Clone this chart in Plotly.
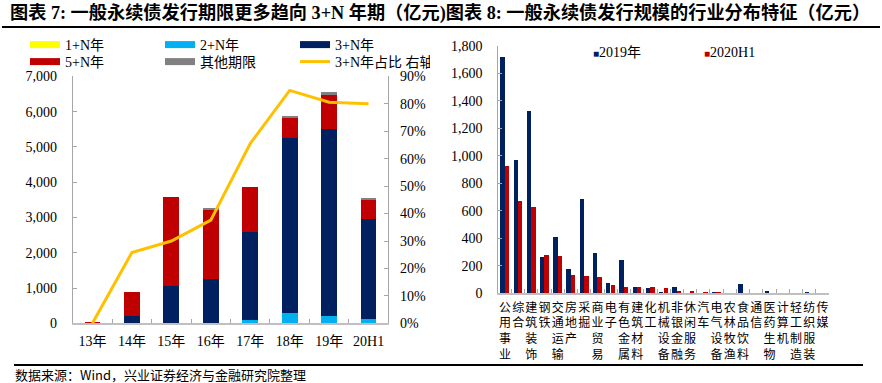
import plotly.graph_objects as go

# ---------------- data: left chart ----------------
years = ["13年", "14年", "15年", "16年", "17年", "18年", "19年", "20H1"]
n1 = [0, 0, 0, 0, 5, 20, 20, 5]            # 1+N年
n2 = [0, 0, 10, 20, 90, 260, 190, 120]     # 2+N年
n3 = [0, 210, 1060, 1230, 2490, 4980, 5290, 2830]  # 3+N年
n5 = [20, 670, 2510, 1970, 1270, 567, 964, 530]    # 5+N年
other = [0, 0, 0, 10, 0, 47, 100, 75]      # 其他期限
share3 = [0.0, 0.258, 0.30, 0.376, 0.655, 0.849, 0.806, 0.80]  # 3+N年占比

# ---------------- data: right chart ----------------
industries = ["公用事业", "综合", "建筑装饰", "钢铁", "交通运输", "房地产", "采掘", "商业贸易",
              "电子", "有色金属", "建筑材料", "化工", "机械设备", "非银金融", "休闲服务", "汽车",
              "电气设备", "农林牧渔", "食品饮料", "通信", "医药生物", "计算机", "轻工制造",
              "纺织服装", "传媒"]
v2019 = [1719, 971, 1325, 264, 409, 177, 683, 293, 77, 240, 46, 38, 8, 47, 0, 3,
         9, 0, 68, 0, 17, 0, 0, 12, 0]
v2020 = [927, 668, 627, 278, 274, 131, 123, 119, 58, 48, 46, 44, 37, 17, 17, 12,
         8, 3, 0, 0, 0, 0, 0, 0, 0]

left_ticks = [0, 1000, 2000, 3000, 4000, 5000, 6000, 7000]
pct_ticks = [0, 0.1, 0.2, 0.3, 0.4, 0.5, 0.6, 0.7, 0.8, 0.9]
right_ticks = [0, 200, 400, 600, 800, 1000, 1200, 1400, 1600, 1800]

C_Y, C_C, C_N, C_R, C_G, C_O = "#FFFF00", "#00B0F0", "#002060", "#C00000", "#808080", "#FFC000"
SERIF = "Liberation Serif, Noto Sans CJK SC"
CJK = "Noto Sans CJK SC"
W, H = 882, 383

def px(x):
    return x / W

def py(y):
    return 1 - y / H

fig = go.Figure()

# stacked bars (left)
for name, vals, col in [("1+N年", n1, C_Y), ("2+N年", n2, C_C), ("3+N年", n3, C_N),
                        ("5+N年", n5, C_R), ("其他期限", other, C_G)]:
    fig.add_trace(go.Bar(x=years, y=vals, name=name, marker_color=col,
                         marker_line_width=0, showlegend=False, xaxis="x", yaxis="y"))

fig.add_trace(go.Scatter(x=years, y=share3, name="3+N年占比 右轴", mode="lines",
                         line=dict(color=C_O, width=3), showlegend=False,
                         xaxis="x", yaxis="y2"))

# legend proxies (left)
for name, col, lg in [("1+N年", C_Y, "legend"), ("2+N年", C_C, "legend"), ("3+N年", C_N, "legend"),
                      ("5+N年", C_R, "legend2"), ("其他期限", C_G, "legend2")]:
    fig.add_trace(go.Scatter(x=[None], y=[None], mode="lines", name=name,
                             line=dict(color=col, width=7), legend=lg,
                             xaxis="x", yaxis="y"))
fig.add_trace(go.Scatter(x=[None], y=[None], mode="lines", name="3+N年占比 右轴",
                         line=dict(color=C_O, width=3), legend="legend2",
                         xaxis="x", yaxis="y2"))

# right chart grouped bars
ind_ticktext = ["<br>".join(list(s)) for s in industries]
fig.add_trace(go.Bar(x=industries, y=v2019, name="2019年", marker_color=C_N,
                     marker_line_width=0, width=0.33, offset=-0.35,
                     showlegend=False, xaxis="x2", yaxis="y3"))
fig.add_trace(go.Bar(x=industries, y=v2020, name="2020H1", marker_color=C_R,
                     marker_line_width=0, width=0.33, offset=-0.01,
                     showlegend=False, xaxis="x2", yaxis="y4"))
for name, col in [("2019年", C_N), ("2020H1", C_R)]:
    fig.add_trace(go.Scatter(x=[None], y=[None], mode="markers",
                             name='<span style="color:%s;font-size:10px">■</span>%s' % (col, name),
                             marker=dict(color="rgba(0,0,0,0)", symbol="square", size=1,
                                         line=dict(width=0)),
                             legend="legend3", xaxis="x2", yaxis="y3"))

axis_common = dict(showgrid=False, zeroline=False, showline=True, linecolor="#A6A6A6",
                   linewidth=1, tickcolor="#A6A6A6", ticks="inside", ticklen=4,
                   automargin=False,
                   tickfont=dict(family=SERIF, size=14, color="#000"))

leg_common = dict(orientation="h", xanchor="left", yanchor="middle", itemwidth=30,
                  entrywidthmode="pixels", bgcolor="rgba(0,0,0,0)", traceorder="normal",
                  font=dict(family=SERIF, size=14, color="#000"), itemclick=False,
                  borderwidth=0)

fig.update_layout(
    width=W, height=H, margin=dict(l=0, r=0, t=0, b=0, autoexpand=False),
    paper_bgcolor="white", plot_bgcolor="white",
    barmode="stack", bargap=0.6,
    xaxis=dict(domain=[px(72.7), px(388.3)], anchor="y", type="category",
               tickson="boundaries", tickangle=0,
               **{**axis_common, "linecolor": "#BFBFBF", "linewidth": 2},
               ticklabelstandoff=4),
    yaxis=dict(domain=[py(323.3), py(76.4)], anchor="x", range=[0, 7000],
               tickvals=left_ticks, tickformat=",", ticklabelstandoff=12, **axis_common),
    yaxis2=dict(overlaying="y", side="right", anchor="x", range=[0, 0.9],
                tickvals=pct_ticks, tickformat=".0%", ticklabelstandoff=8, **axis_common),
    xaxis2=dict(domain=[px(498.3), px(829)], anchor="y3", type="category",
                tickson="boundaries", tickvals=industries, ticktext=ind_ticktext, tickangle=0,
                **{**axis_common, "linecolor": "#BFBFBF", "linewidth": 2,
                   "tickfont": dict(family=CJK, size=12, color="#000")},
                ticklabelstandoff=2),
    yaxis3=dict(domain=[py(293.3), py(45.7)], anchor="x2", range=[0, 1800],
                tickvals=right_ticks, tickformat=",", ticklabelstandoff=12, **axis_common),
    yaxis4=dict(overlaying="y3", anchor="x2", range=[0, 1800], visible=False),
    legend=dict(x=px(25), y=py(45), entrywidth=90, **leg_common),
    legend2=dict(x=px(25), y=py(62), entrywidth=90, **leg_common),
    legend3=dict(x=px(553), y=py(52), entrywidth=66, **leg_common),
    showlegend=True,
)

fig.add_annotation(text="图表 7: 一般永续债发行期限更多趋向 3+N 年期（亿元)图表 8: 一般永续债发行规模的行业分布特征（亿元）",
                   xref="paper", yref="paper", x=px(8), y=py(13), xanchor="left", yanchor="middle",
                   showarrow=False, font=dict(family=SERIF, size=18.2, color="#000", weight="bold"))
fig.add_annotation(text="数据来源：Wind，兴业证券经济与金融研究院整理",
                   xref="paper", yref="paper", x=px(13), y=py(374), xanchor="left", yanchor="middle",
                   showarrow=False, font=dict(family=CJK, size=13, color="#000"))
fig.add_shape(type="line", xref="paper", yref="paper", x0=px(2), x1=px(880), y0=py(27), y1=py(27),
              line=dict(color="#000", width=2))
fig.add_shape(type="line", xref="paper", yref="paper", x0=px(14), x1=px(863), y0=py(365), y1=py(365),
              line=dict(color="#000", width=2))

fig.write_html("out.html", config={"displayModeBar": False},
               post_script="document.body.style.margin='0';")
